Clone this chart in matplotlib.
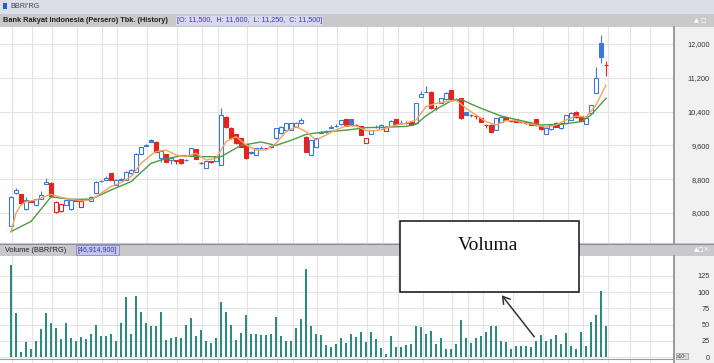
import numpy as np
import matplotlib
matplotlib.use("Agg")
import matplotlib.pyplot as plt
from matplotlib.patches import Rectangle, FancyArrowPatch

# daily OHLC, BBRI RG
open_ = [7700, 8470, 8450, 8090, 8290, 8190, 8330, 8690, 8720, 8030,
         8055, 8190, 8090, 8310, 8150, 8330, 8290, 8480, 8750, 8780,
         8940, 8665, 8790, 8780, 8940, 8980, 9400, 9590, 9720, 9690,
         9295, 9390, 9255, 9250, 9270, 9250, 9350, 9515, 9185, 9075,
         9220, 9230, 9135, 10280, 10020, 9860, 9770, 9625, 9430, 9375,
         9540, 9540, 9560, 9770, 9885, 9965, 9965, 10040, 10125, 9810,
         9375, 9570, 9900, 9915, 10010, 10050, 10100, 10220, 10220, 10085,
         10060, 9665, 9870, 10040, 9990, 9950, 10060, 10220, 10135, 10130,
         10160, 10125, 10755, 10865, 10870, 10490, 10610, 10690, 10910, 10675,
         10715, 10380, 10315, 10300, 10240, 10090, 10085, 9965, 10160, 10265,
         10190, 10218, 10165, 10145, 10124, 10218, 10060, 9870, 9980, 10140,
         10005, 10125, 10200, 10400, 10295, 10105, 10375, 10835, 12015, 11500]
high = [8400, 8590, 8460, 8370, 8300, 8330, 8530, 8820, 8730, 8280,
        8220, 8310, 8320, 8330, 8290, 8360, 8400, 8760, 8790, 8880,
        8950, 8800, 8820, 8990, 9030, 9410, 9570, 9640, 9740, 9700,
        9470, 9400, 9300, 9260, 9280, 9270, 9540, 9525, 9200, 9240,
        9230, 9345, 10490, 10290, 10030, 9870, 9780, 9635, 9470, 9540,
        9580, 9550, 9600, 10015, 10055, 10135, 10140, 10150, 10260, 9820,
        9735, 9780, 9930, 9970, 10080, 10100, 10210, 10230, 10230, 10100,
        10070, 9780, 9975, 10080, 10095, 10055, 10195, 10230, 10190, 10170,
        10170, 10605, 10880, 11005, 10880, 10560, 10725, 10860, 10920, 10710,
        10725, 10400, 10340, 10310, 10250, 10110, 10095, 10250, 10275, 10275,
        10210, 10228, 10180, 10160, 10134, 10228, 10070, 10015, 10095, 10150,
        10135, 10330, 10385, 10410, 10305, 10250, 10565, 11460, 12210, 11600]
low = [7690, 8460, 8220, 8080, 8250, 8180, 8320, 8680, 8390, 8000,
       8030, 8180, 8080, 8280, 8140, 8320, 8280, 8470, 8740, 8770,
       8770, 8655, 8780, 8770, 8930, 8970, 9390, 9580, 9670, 9440,
       9215, 9200, 9160, 9160, 9165, 9240, 9340, 9270, 9150, 9065,
       9180, 9220, 9130, 10020, 9760, 9640, 9560, 9285, 9400, 9365,
       9530, 9520, 9550, 9760, 9875, 9955, 9955, 10030, 10115, 9440,
       9365, 9560, 9890, 9905, 10000, 10040, 10090, 10050, 10075, 10070,
       9835, 9655, 9860, 10020, 9980, 9940, 10050, 10090, 10125, 10100,
       10075, 10115, 10745, 10855, 10470, 10440, 10600, 10680, 10680, 10665,
       10230, 10310, 10280, 10220, 10150, 10000, 9915, 9955, 10150, 10190,
       10150, 10152, 10120, 10110, 10073, 10070, 9970, 9860, 9970, 10035,
       9995, 10115, 10190, 10255, 10175, 10095, 10365, 10830, 11540, 11250]
close = [8390, 8540, 8230, 8310, 8260, 8320, 8425, 8740, 8400, 8270,
         8210, 8300, 8310, 8290, 8280, 8340, 8390, 8740, 8765, 8820,
         8780, 8790, 8800, 8980, 9020, 9400, 9555, 9620, 9680, 9450,
         9460, 9215, 9295, 9240, 9175, 9255, 9530, 9280, 9175, 9230,
         9215, 9335, 10320, 10030, 9770, 9650, 9570, 9295, 9436, 9530,
         9546, 9530, 9575, 10005, 10045, 10125, 10130, 10140, 10200, 9450,
         9725, 9770, 9910, 9925, 10030, 10060, 10200, 10060, 10085, 10080,
         9845, 9770, 9965, 10045, 10085, 10045, 10185, 10100, 10140, 10125,
         10085, 10595, 10815, 10870, 10480, 10478, 10715, 10850, 10690, 10700,
         10240, 10320, 10325, 10295, 10160, 10083, 9925, 10240, 10265, 10200,
         10186, 10162, 10160, 10140, 10083, 10080, 9980, 10005, 10085, 10045,
         10125, 10320, 10375, 10265, 10185, 10240, 10555, 11190, 11700, 11500]

# volume, millions of shares
volume = [141, 67, 8, 23, 13, 25, 43, 68, 52, 44,
          28, 52, 29, 24, 31, 28, 35, 50, 33, 33,
          35, 25, 53, 92, 35, 94, 69, 53, 47, 48,
          70, 26, 30, 31, 29, 49, 60, 33, 42, 25,
          22, 29, 85, 70, 49, 26, 37, 65, 35, 35,
          34, 34, 35, 62, 33, 25, 25, 44, 58, 135,
          48, 36, 34, 18, 16, 20, 29, 21, 36, 31,
          38, 23, 38, 28, 14, 5, 33, 16, 16, 18,
          20, 48, 46, 35, 40, 20, 29, 13, 13, 20,
          57, 29, 21, 29, 33, 38, 47, 47, 25, 23,
          13, 17, 17, 17, 15, 24, 34, 25, 27, 34,
          20, 37, 17, 12, 38, 17, 54, 64, 102, 47]

# moving averages, read at selected sessions (1-based session number)
ma_short_day = [1, 2, 3, 4, 6, 8, 9, 11, 13, 15, 17, 19, 21, 23, 25, 27, 29, 30,
                32, 34, 36, 38, 40, 42, 44, 46, 48, 50, 52, 54, 56, 58, 60, 62,
                64, 66, 68, 70, 72, 74, 76, 78, 80, 82, 84, 86, 88, 90, 92, 94,
                96, 98, 100, 102, 104, 106, 108, 110, 112, 114, 116, 118, 120]
ma_short = [7550, 8000, 8190, 8268, 8308, 8403, 8440, 8372, 8325, 8292, 8308,
            8466, 8624, 8718, 8860, 9175, 9373, 9451, 9491, 9373, 9333, 9412,
            9254, 9294, 9688, 9807, 9610, 9491, 9491, 9650, 9925, 10045, 9925,
            9727, 9846, 9966, 10060, 10060, 9950, 9950, 10006, 10083, 10124,
            10200, 10517, 10596, 10635, 10675, 10478, 10320, 10162, 10083,
            10186, 10186, 10124, 10083, 10030, 10083, 10200, 10296, 10265,
            10556, 11030]
ma_long_day = [1, 5, 9, 13, 17, 21, 25, 29, 31, 35, 39, 43, 47, 51, 54, 57, 60,
               64, 68, 72, 76, 80, 82, 84, 86, 89, 91, 93, 95, 99, 103, 107,
               111, 115, 117, 120]
ma_long = [7560, 7800, 8380, 8325, 8325, 8544, 8742, 9175, 9254, 9357, 9333,
           9333, 9600, 9680, 9600, 9720, 9860, 9925, 9960, 10020, 10030, 10050,
           10100, 10300, 10454, 10650, 10690, 10580, 10478, 10296, 10186,
           10083, 10100, 10162, 10320, 10714]

price_ticks = [8000, 8800, 9600, 10400, 11200, 12000]
vol_ticks = [0, 25, 50, 75, 100, 125]
# vertical grid lines (session positions of the date separators)
date_grid = [0.2, 4.2, 8.2, 13.2, 18.2, 21.2, 27.2, 33.2, 38.2, 41.4, 47.2,
             53.2, 56.4, 61.2, 65.2, 71.2, 74.4, 77.4, 82.4, 88.2, 91.4, 94.4,
             100.4, 106.4, 111.4, 114.4, 119.4, 123.8, 127.8]

W, H = 714, 363
BLUE = '#3d78d6'
RED = '#e8231b'


def box(x0, y0, x1, y1):
    return [x0 / W, 1 - y1 / H, (x1 - x0) / W, (y1 - y0) / H]


plt.rcParams['font.family'] = ['Liberation Sans', 'DejaVu Sans']
fig = plt.figure(figsize=(W / 100, H / 100), dpi=100)

# chrome: header strips and right-hand scale panels
bg = fig.add_axes([0, 0, 1, 1], zorder=0)
bg.set_xlim(0, W)
bg.set_ylim(H, 0)
bg.axis('off')
bg.add_patch(Rectangle((0, 0), W, 14, fc='#dedeea', ec='none'))
bg.add_patch(Rectangle((0, 14), W, 13, fc='#c9c9cc', ec='none'))
bg.add_patch(Rectangle((0, 243), W, 13, fc='#c9c9cc', ec='none'))
bg.plot([0, W], [243.5, 243.5], color='#8c8ca8', lw=0.8)
bg.add_patch(Rectangle((673, 27), 41, 216, fc='#f1f1f1', ec='none'))
bg.add_patch(Rectangle((673, 256), 41, 107, fc='#f1f1f1', ec='none'))
bg.plot([673.5, 673.5], [27, 243], color='#9a9a9a', lw=1.4)
bg.plot([673.5, 673.5], [256, 363], color='#9a9a9a', lw=1.4)
bg.add_patch(Rectangle((3, 3), 4, 6, fc='#1f5fd0', ec='none'))
bg.text(10, 6.5, "BBRI'RG", fontsize=5.2, color='#404040', va='center')
bg.text(3, 21, 'Bank Rakyat Indonesia (Persero) Tbk. (History)', fontsize=5.3,
        color='#202020', va='center', fontweight='bold')
bg.text(177, 21, '[O: 11,500,  H: 11,600,  L: 11,250,  C: 11,500]', fontsize=5.2,
        color='#3a3ab0', va='center',
        bbox=dict(boxstyle='square,pad=0.15', fc='#d8d8ea', ec='none'))
bg.plot([177, 322], [25, 25], color='#3a3ab0', lw=0.5)
bg.text(700, 21, '\u25b2 \u25a1', fontsize=4.5, color='white', va='center', ha='center',
        family='DejaVu Sans')
bg.text(5, 250, "Volume (BBRI'RG)", fontsize=5.3, color='#202020', va='center')
bg.text(78, 250, '[46,914,900]', fontsize=5.0, color='#3a3ab0', va='center',
        bbox=dict(boxstyle='square,pad=0.25', fc='#c4c4e6', ec='#8080c0', lw=0.5))
bg.text(702, 250, '\u25b2\u25a1\u2715', fontsize=4.5, color='white', va='center',
        ha='center', family='DejaVu Sans')
bg.text(682, 356, 'x10\u2076', fontsize=3.5, color='#404040', va='center', ha='center',
        bbox=dict(boxstyle='square,pad=0.2', fc='#dcdcdc', ec='#808080', lw=0.4))

n = len(close)
x = np.arange(n)
o = np.array(open_)
c = np.array(close)
prev = np.r_[c[0], c[:-1]]
col = np.where(c >= prev, BLUE, RED)
face = np.where(c < o, col, 'white')

# price panel
ax = fig.add_axes(box(0, 27, 673, 243), zorder=1)
ax.set_xlim(-2.2, 132.4)
ax.set_ylim(7290, 12402)
ax.vlines(x, low, high, colors=col, lw=0.8, zorder=2)
ax.bar(x, np.abs(c - o), bottom=np.minimum(o, c), width=0.85, color=face,
       edgecolor=col, lw=0.8, zorder=3)
ax.plot(np.array(ma_long_day) - 1, ma_long, color='#4c9c43', lw=1.0, zorder=4)
ax.plot(np.array(ma_short_day) - 1, ma_short, color='#f4a35e', lw=1.0, zorder=4)
ax.set_xticks(date_grid)
ax.set_yticks(price_ticks)
ax.set_yticklabels([f'{t:,}' for t in price_ticks])
ax.tick_params(axis='x', length=0, labelbottom=False)
ax.tick_params(axis='y', length=0, left=False, labelleft=False, right=False,
               labelright=True, pad=26.5, labelsize=5.3, labelcolor='#333333')
for lbl in ax.get_yticklabels():
    lbl.set_ha('right')
ax.grid(True, color='#e4e4e4', lw=0.8)
ax.set_axisbelow(True)
for s in ax.spines.values():
    s.set_visible(False)

# volume panel
av = fig.add_axes(box(0, 256, 673, 363), zorder=1)
av.set_xlim(-2.2, 132.4)
av.set_ylim(-9.2, 155.4)
av.bar(x, volume, width=0.4, color='#2b8a82', zorder=3)
av.axhline(-3, color='#9a9a9a', lw=0.8)
av.set_xticks(date_grid)
av.set_yticks(vol_ticks)
av.tick_params(axis='x', length=0, labelbottom=False)
av.tick_params(axis='y', length=0, left=False, labelleft=False, right=False,
               labelright=True, pad=26.5, labelsize=5.3, labelcolor='#333333')
for lbl in av.get_yticklabels():
    lbl.set_ha('right')
av.grid(True, color='#e4e4e4', lw=0.8)
av.set_axisbelow(True)
for s in av.spines.values():
    s.set_visible(False)

# callout box pointing at the volume bars
ov = fig.add_axes([0, 0, 1, 1], zorder=5)
ov.set_xlim(0, W)
ov.set_ylim(H, 0)
ov.axis('off')
ov.patch.set_alpha(0)
ov.add_patch(Rectangle((400, 221), 179, 71, fc='white', ec='#111111', lw=1.1))
ov.text(488, 245, 'Voluma', fontsize=14, family='Liberation Serif',
        color='#111111', ha='center', va='center')
ov.add_patch(FancyArrowPatch((536, 339), (500, 293),
                             arrowstyle='->,head_length=5,head_width=3',
                             color='#333333', lw=1.1, mutation_scale=1))

fig.savefig('out.png', dpi=100)
